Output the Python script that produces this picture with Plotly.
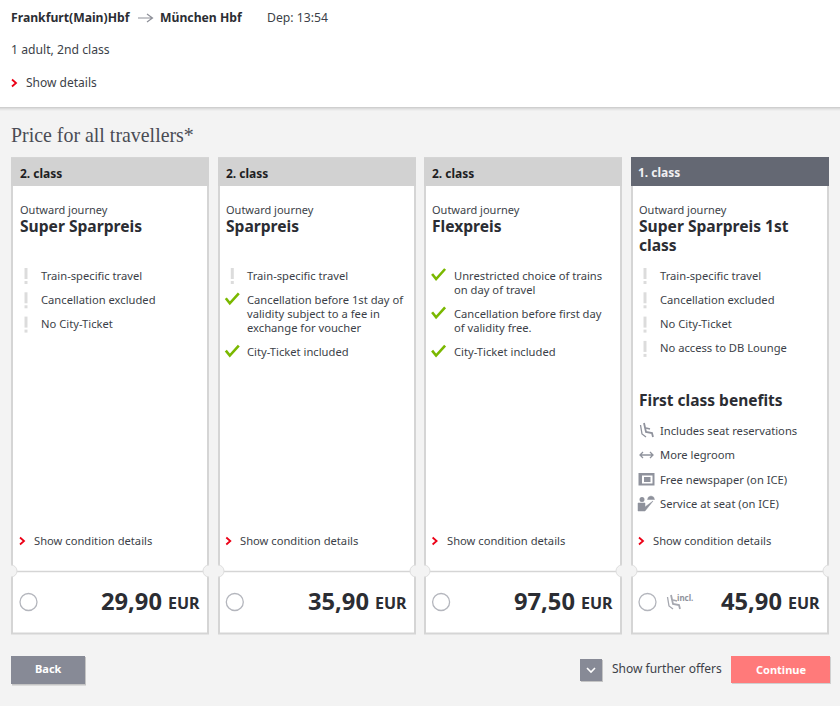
import plotly.graph_objects as go

# page text
origin = "Frankfurt(Main)Hbf"
destination = "München Hbf"
departure = "Dep: 13:54"
passengers = "1 adult, 2nd class"
heading = "Price for all travellers*"

# one entry per fare card
classes = ["2. class", "2. class", "2. class", "1. class"]
fare_names = [["Super Sparpreis"], ["Sparpreis"], ["Flexpreis"], ["Super Sparpreis 1st", "class"]]
prices = ["29,90", "35,90", "97,50", "45,90"]
features = [
    [("warn", ["Train-specific travel"]), ("warn", ["Cancellation excluded"]), ("warn", ["No City-Ticket"])],
    [("warn", ["Train-specific travel"]),
     ("ok", ["Cancellation before 1st day of", "validity subject to a fee in", "exchange for voucher"]),
     ("ok", ["City-Ticket included"])],
    [("ok", ["Unrestricted choice of trains", "on day of travel"]),
     ("ok", ["Cancellation before first day", "of validity free."]),
     ("ok", ["City-Ticket included"])],
    [("warn", ["Train-specific travel"]), ("warn", ["Cancellation excluded"]),
     ("warn", ["No City-Ticket"]), ("warn", ["No access to DB Lounge"])],
]
benefits = ["Includes seat reservations", "More legroom", "Free newspaper (on ICE)", "Service at seat (on ICE)"]

TEXT = "#3c3f48"
DARK = "#2b2d33"
GREY_BTN = "#878a96"
ICON = "#8f929c"
BG = "#f3f3f3"
BORDER = "#d5d5d5"
SANS = "Noto Sans"

shapes = []
notes = []


def rect(x0, y0, x1, y1, fill, line=None, width=0):
    shapes.append(dict(type="rect", x0=x0, y0=y0, x1=x1, y1=y1, fillcolor=fill,
                       line=dict(color=line or fill, width=width), layer="below"))


def circle(cx, cy, r, fill, line=None, width=0):
    shapes.append(dict(type="circle", x0=cx - r, y0=cy - r, x1=cx + r, y1=cy + r, fillcolor=fill,
                       line=dict(color=line or fill, width=width), layer="below"))


def path(d, color, width=1.5, fill=None):
    shapes.append(dict(type="path", path=d, fillcolor=fill or "rgba(0,0,0,0)",
                       line=dict(color=color, width=width), layer="below"))


def text(x, y, s, size=11.2, color=TEXT, bold=False, anchor="left", family=SANS):
    # annotations keep about a pixel of padding around the text
    nudge = {"left": -1, "right": 1, "center": 0}[anchor]
    notes.append(dict(x=x + nudge, y=y - 1, text=f"<b>{s}</b>" if bold else s, showarrow=False, xanchor=anchor,
                      yanchor="middle", borderpad=0, font=dict(family=family, size=size, color=color)))


def chevron(x, y):
    path(f"M {x} {y - 3.5} L {x + 4} {y} L {x} {y + 3.5}", "#ec0016", 1.8)


def warn(cx, y):
    rect(cx - 1.5, y - 8, cx + 1.5, y + 3, "#dcdcdc")
    rect(cx - 1.5, y + 5, cx + 1.5, y + 8, "#dcdcdc")


def tick(cx, y):
    path(f"M {cx - 6.5} {y - 1} L {cx - 2.5} {y + 4} L {cx + 6.5} {y - 6}", "#7ab800", 2.6)


def seat(x, y, color=ICON):
    path(f"M {x + 1} {y - 7} L {x + 3} {y + 2} L {x + 9} {y + 3} L {x + 10} {y + 7}", color, 1.8)
    path(f"M {x - 2.5} {y - 5} L {x - 1} {y + 4} L {x + 3} {y + 7}", color, 1.3)
    path(f"M {x + 3} {y - 2} L {x + 7} {y - 1}", color, 1.3)


# page layers
rect(0, 0, 840, 107, "white")
for i, c in enumerate(["#cfcfcf", "#dcdcdc", "#e6e6e6", "#eeeeee"]):
    rect(0, 107 + i, 840, 108 + i, c)

text(11, 18, origin, size=12.2, bold=True, color=DARK)
path("M 138 18 L 152 18 M 147 14 L 152.5 18 L 147 22", "#8d8f98", 1.2)
text(160, 18, destination, size=12.2, bold=True, color=DARK)
text(267, 18, departure, size=12.2)
text(11, 50, passengers, size=12.2)
chevron(12, 83)
text(26, 83, "Show details", size=12)
text(11, 136, heading, size=19.9, color="#4a4c55", family="Liberation Serif")

# fare cards
card_lefts = [11, 218, 424, 631]
content_lefts = [11, 217.3, 423.6, 630]
card_width = 198
for i, left in enumerate(card_lefts):
    right = left + card_width
    inner = content_lefts[i]
    first = classes[i].startswith("1")
    rect(left + 1, 158, right - 1, 633.5, "white", BORDER, 2)
    rect(left, 157 if first else 158, right, 186, "#646873" if first else "#d2d2d2")
    text(inner + (7.5 if first else 8.5), 173 if first else 174, classes[i], size=12, bold=True,
         color="#f0f0f2" if first else "#1e1e22")
    text(inner + 8.5, 210, "Outward journey", size=11)
    for j, line in enumerate(fare_names[i]):
        text(inner + 8.5, 226.5 + 19.5 * j, line, size=15.6, bold=True, color=DARK)

    y = 276
    for kind, lines in features[i]:
        if kind == "warn":
            warn(inner + 15, y)
        else:
            tick(inner + 15, y - 1)
        for line in lines:
            text(inner + 30, y, line)
            y += 14
        y += 10.3

    chevron(inner + 9, 541)
    text(inner + 23, 541, "Show condition details")

    # price strip, then round notches with their outer halves hidden again
    path(f"M {left} 571.5 L {right} 571.5", BORDER, 1.5)
    circle(left, 571, 6, BG, "#dedede", 1)
    circle(right, 571, 6, BG, "#dedede", 1)
    rect(left - 7, 564, left, 578, BG)
    rect(right, 564, right + 7, 578, BG)
    circle(inner + 17.5, 602, 8.5, "white", "#b4b6bd", 1.3)
    text(right - 47, 601.5, prices[i], size=23.7, bold=True, color=DARK, anchor="right")
    text(right - 9, 604, "EUR", size=16, bold=True, color=DARK, anchor="right")

# first class extras
inner4 = content_lefts[3]
text(inner4 + 9, 401, "First class benefits", size=15.5, bold=True, color=DARK)
for y, label in zip([431, 455, 480, 504], benefits):
    text(660, y, label)
seat(643, 430)
path("M 640 455 L 653 455 M 643 452 L 640 455 L 643 458 M 650 452 L 653 455 L 650 458", ICON, 1.3)
rect(638.5, 473, 654.5, 485.5, ICON)
rect(642, 475.5, 652.5, 483.5, "white")
rect(644, 477, 650.5, 482, ICON)
circle(642, 499.5, 2.5, ICON)
path("M 638 511 L 638 503 L 645 503 L 645 507 L 653 501 L 645 511 Z", ICON, 0.5, ICON)
path("M 647.5 499.5 L 648.5 497 L 651 496 L 653.5 497 L 654.5 499.5 Z", ICON, 0.5, ICON)
seat(670, 602, "#a5a7af")
text(677, 598, "incl.", size=8, bold=True, color="#8f929c")

# buttons
rect(12, 657, 86, 685.5, "#c4c4c4")
rect(11, 656, 85, 684, GREY_BTN)
text(48, 669.5, "Back", bold=True, color="white", anchor="center", size=11)

rect(581, 660, 603, 682, "#c4c4c4")
rect(580, 659, 602, 681, GREY_BTN)
path("M 587 668 L 591 672 L 595 668", "white", 1.6)
text(612, 669, "Show further offers", size=12)

rect(732, 657, 831, 684, "#cfcfcf")
rect(731, 656, 830, 683, "#ff7a7a")
text(780.5, 670, "Continue", bold=True, color="white", anchor="center", size=11)

fig = go.Figure()
fig.update_layout(
    width=840, height=706, margin=dict(l=0, r=0, t=0, b=0),
    paper_bgcolor=BG, plot_bgcolor=BG, showlegend=False,
    xaxis=dict(range=[0, 840], visible=False, fixedrange=True),
    yaxis=dict(range=[706, 0], visible=False, fixedrange=True),
    shapes=shapes, annotations=notes,
)
# the page's default body margin would push the fixed-size figure off by 8px
fig.write_html("out.html", config={"displayModeBar": False},
               post_script="document.body.style.margin='0';document.documentElement.style.overflow='hidden';")
